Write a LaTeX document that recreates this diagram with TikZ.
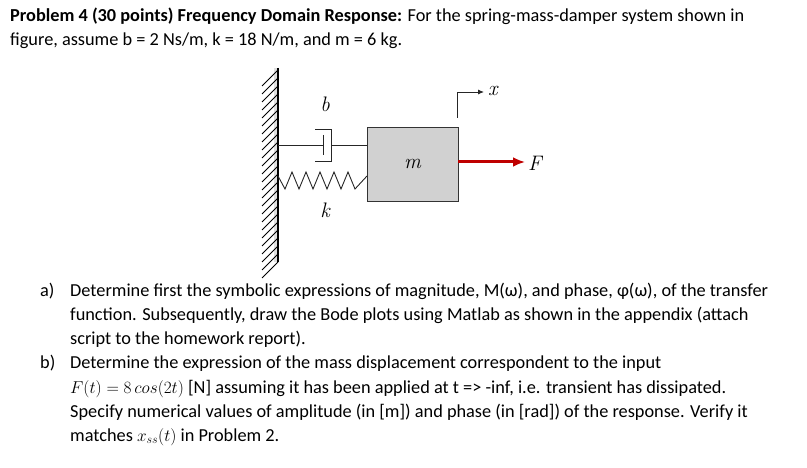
\documentclass[tikz,border=0pt]{standalone}
\usepackage{fontspec}
\setmainfont{Carlito}
\newfontfamily\lmr{Latin Modern Roman}
\usetikzlibrary{arrows.meta}
\begin{document}
\begin{tikzpicture}[x=1bp,y=-1bp,
  txt/.style={anchor=base west,inner sep=0pt,font=\fontsize{18.3bp}{20bp}\selectfont},
  lbl/.style={inner sep=0pt,font=\fontsize{21bp}{22bp}\selectfont\lmr\itshape},
  mech/.style={line width=0.9bp,black!85}]
\useasboundingbox (0,0) rectangle (807,468);
% title
\node[txt] (t1) at (10,22) {\textbf{Problem 4 (30 points) Frequency Domain Response:} For the spring-mass-damper system shown in};
\node[txt] (t2) at (10,46) {figure, assume b = 2 Ns/m, k = 18 N/m, and m = 6 kg.};
% wall
\fill[black!12] (274,68) rectangle (279,262);
\draw[line width=1.2bp] (278,68) -- (278,262);
\foreach \yy in {70,78,...,262} {\draw[line width=0.9bp] (278,\yy) -- (262,\yy+16);}
% damper
\draw[mech] (278,145) -- (323,145);
\draw[mech] (323,135) -- (323,155);
\draw[mech] (315,129) -- (331,129) -- (331,161) -- (315,161);
\draw[mech] (331,145) -- (367,145);
% spring
\draw[mech] (278,176) -- (285,189) -- (292,172) -- (299,189) -- (306,172) -- (313,189) -- (320,172) -- (327,189) -- (334,172) -- (341,189) -- (348,172) -- (355,189) -- (367,176);
% mass
\node[draw=black!80,fill=black!18,line width=0.9bp,minimum width=91bp,minimum height=74bp,inner sep=0pt] (m) at (412.5,164) {};
\node[lbl] at (m.center) {m};
\node[lbl] (b) at (325,104) {b};
\node[lbl] (k) at (325,210) {k};
% force
\coordinate (fe) at (525,162);
\draw[red!75!black,line width=3bp,-{Latex[length=12bp,width=10bp]}] (458,162) -- (fe);
\node[lbl,anchor=west] (F) at (528,163) {F};
% x arrow
\draw[mech,-{Latex[length=6bp,width=5bp]}] (457,118) -- (457,92) -- (484,92);
\node[lbl,anchor=west] (x) at (488,91) {x};
% items
\node[txt] at (40,297) {a)};
\node[txt] at (70,297) {Determine first the symbolic expressions of magnitude, M(ω), and phase, φ(ω), of the transfer};
\node[txt] at (70,321) {function. Subsequently, draw the Bode plots using Matlab as shown in the appendix (attach};
\node[txt] at (70,345) {script to the homework report).};
\node[txt] at (40,369) {b)};
\node[txt] at (70,369) {Determine the expression of the mass displacement correspondent to the input};
\node[txt] at (70,393) {$F(t)=8\,cos(2t)$ [N] assuming it has been applied at t => -inf, i.e. transient has dissipated.};
\node[txt] at (70,417) {Specify numerical values of amplitude (in [m]) and phase (in [rad]) of the response. Verify it};
\node[txt] at (70,441) {matches $x_{ss}(t)$ in Problem 2.};
\end{tikzpicture}
\end{document}
